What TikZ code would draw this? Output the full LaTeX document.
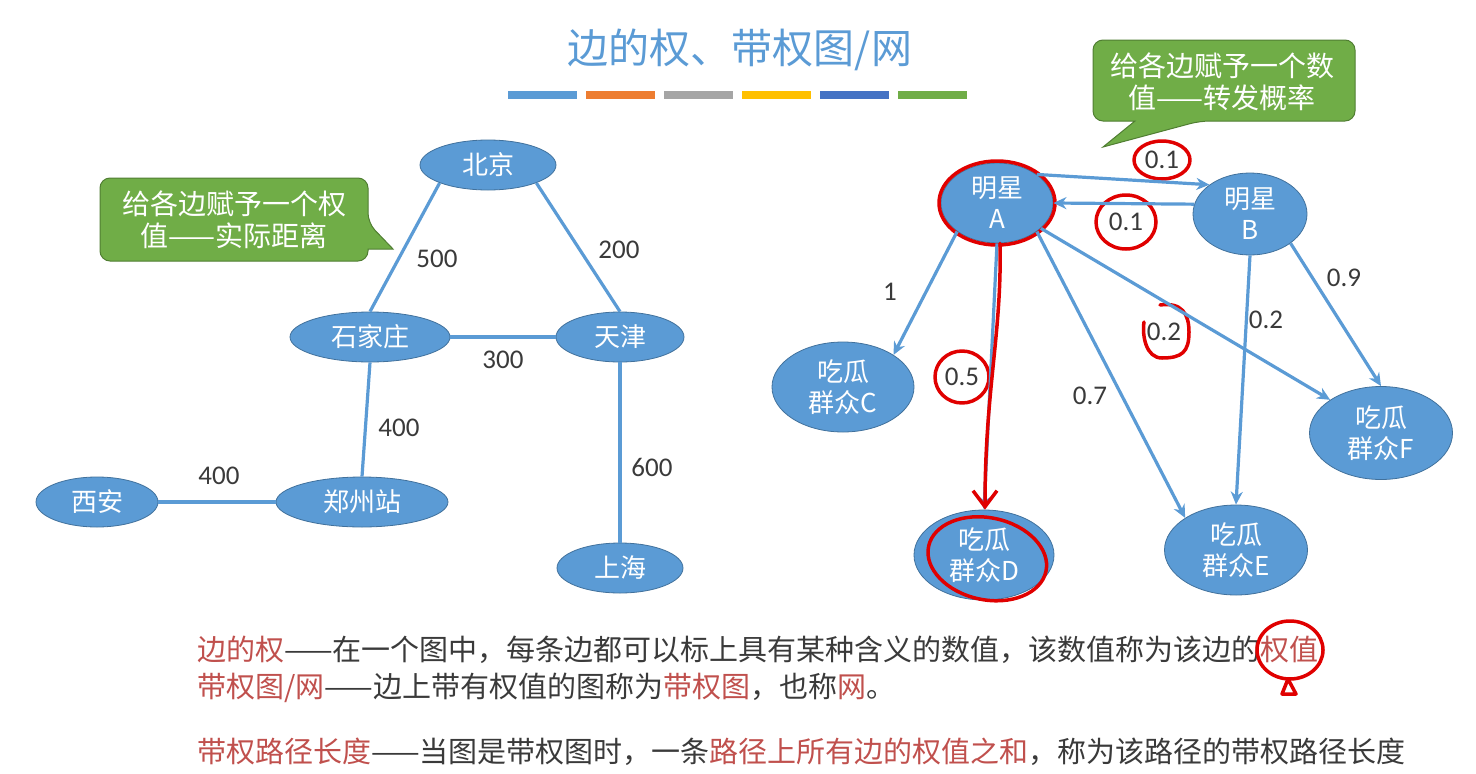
\documentclass[tikz,border=0pt]{standalone}
\usepackage{fontspec}
\setmainfont{Noto Sans CJK SC}
\newfontfamily\numfont{Carlito}
\usetikzlibrary{arrows.meta,shapes.geometric}
\definecolor{nodeblue}{HTML}{5B9BD5}
\definecolor{nodeline}{HTML}{41719C}
\definecolor{calloutgreen}{HTML}{70AD47}
\definecolor{calloutline}{HTML}{507E32}
\definecolor{textgray}{HTML}{3A3A3A}
\definecolor{termred}{HTML}{C0504D}
\definecolor{penred}{HTML}{E00000}
\definecolor{barorange}{HTML}{ED7D31}
\definecolor{bargray}{HTML}{A5A5A5}
\definecolor{baryellow}{HTML}{FFC000}
\definecolor{bardarkblue}{HTML}{4472C4}

\begin{document}
\begin{tikzpicture}[
  x=1pt, y=-1pt,
  city/.style={ellipse, draw=nodeline, line width=0.8pt, fill=nodeblue, text=white, inner sep=0pt, minimum height=50pt, font=\fontsize{26}{30}\selectfont},
  person/.style={ellipse, draw=nodeline, line width=0.8pt, fill=nodeblue, text=white, inner sep=0pt, align=center, font=\fontsize{26}{31}\selectfont},
  road/.style={draw=nodeblue, line width=3.2pt},
  link/.style={draw=nodeblue, line width=3.2pt, -{Stealth[length=13pt,width=12pt]}},
  weight/.style={text=textgray, inner sep=1pt, font=\numfont\fontsize{27}{30}\selectfont},
  callout/.style={fill=calloutgreen, draw=calloutline, line width=1pt, rounded corners=10pt},
  tip/.style={text=white, align=center, font=\fontsize{28}{32}\selectfont},
  pen/.style={draw=penred, line width=3.5pt, line cap=round, line join=round},
  body/.style={anchor=west, inner sep=0pt, text=textgray, font=\fontsize{29}{33}\selectfont}
]
\useasboundingbox (0,0) rectangle (1476,774);

% title and colour bars
\node[text=nodeblue, font=\fontsize{41}{45}\selectfont] (title) at (740,50) {边的权、带权图/网};
\foreach \c [count=\i from 0] in {nodeblue,barorange,bargray,baryellow,bardarkblue,calloutgreen}
  \fill[\c] (508+\i*78,91) rectangle ++(69,8);

% left: distances between cities
\node[city, minimum width=136pt] (bj) at (488,165) {北京};
\node[city, minimum width=160pt] (sjz) at (370,337) {石家庄};
\node[city, minimum width=128pt] (tj) at (620,337) {天津};
\node[city, minimum width=122pt] (xa) at (97,502) {西安};
\node[city, minimum width=172pt] (zz) at (362,502) {郑州站};
\node[city, minimum width=126pt] (sh) at (620,568) {上海};

\draw[road] (bj.south west) -- (sjz.north);
\draw[road] (bj.south east) -- (tj.north);
\draw[road] (sjz.east) -- (tj.west);
\draw[road] (sjz.south) -- (zz.north);
\draw[road] (xa.east) -- (zz.west);
\draw[road] (tj.south) -- (sh.north);

\node[weight] (wbs) at (437,259) {500};
\node[weight] (wbt) at (619,250) {200};
\node[weight] (wst) at (503,360) {300};
\node[weight] (wsz) at (399,428) {400};
\node[weight] (wxz) at (219,476) {400};
\node[weight] (wts) at (652,467) {600};

\draw[callout] (100,178) -- (368,178) -- (368,223) [sharp corners] -- (393,249) -- (368,249) [rounded corners=10pt] -- (368,261) -- (100,261) -- cycle;
\node[tip] (note1) at (234,220) {给各边赋予一个权\\值——实际距离};

% right: forwarding probabilities
\draw[callout] (1093,40) -- (1355,40) -- (1355,121) -- (1200,121) [sharp corners] -- (1103,147) -- (1135,121) [rounded corners=10pt] -- (1093,121) -- cycle;
\node[tip] (note2) at (1222,82) {给各边赋予一个数\\值——转发概率};

\node[person, minimum width=112pt, minimum height=80pt] (A) at (997,203) {明星\\A};
\node[person, minimum width=114pt, minimum height=82pt] (B) at (1250,214) {明星\\B};
\node[person, minimum width=142pt, minimum height=90pt] (C) at (843,387) {吃瓜\\群众C};
\node[person, minimum width=140pt, minimum height=90pt] (D) at (984,555) {吃瓜\\群众D};
\node[person, minimum width=143pt, minimum height=90pt] (E) at (1236,550) {吃瓜\\群众E};
\node[person, minimum width=143pt, minimum height=93pt] (F) at (1381,433) {吃瓜\\群众F};

\node[weight] (wAB) at (1162,160) {0.1};
\node[weight] (wBA) at (1126,222) {0.1};
\node[weight] (wAC) at (890,292) {1};
\node[weight] (wAD) at (962,377) {0.5};
\node[weight] (wAE) at (1090,396) {0.7};
\node[weight] (wAF) at (1164,332) {0.2};
\node[weight] (wBE) at (1266,320) {0.2};
\node[weight] (wBF) at (1344,278) {0.9};

% red pen marks
\draw[pen] (A.center) ellipse [x radius=58pt, y radius=42pt];
\draw[pen, rotate around={-12:(D.center)}] ([xshift=4pt,yshift=-3pt]D.center) ellipse [x radius=60pt, y radius=41pt];
\draw[pen] (wAB.center) ellipse [x radius=28pt, y radius=19pt];
\draw[pen] (wBA.center) ellipse [x radius=30pt, y radius=27pt];
\draw[pen] (wAD.center) ellipse [x radius=27pt, y radius=26pt];
\draw[pen] ([xshift=-4pt,yshift=27pt]wAF.center) .. controls +(22pt,3pt) and +(0pt,18pt) .. ([xshift=25pt,yshift=0pt]wAF.center)
  .. controls +(0pt,-20pt) and +(20pt,0pt) .. ([xshift=-2pt,yshift=-26pt]wAF.center)
  .. controls +(-16pt,0pt) and +(-2pt,-14pt) .. ([xshift=-20pt,yshift=10pt]wAF.center);

\draw[link] (A.north east) -- (B.north west);
\draw[link] (B.170) -- (A.0);
\draw[link] (A.south west) -- (C.north east);
\draw[link] (A.south) -- (D.north);
\draw[link] (A.south east) -- (E.north west);
\draw[link] (A.-30) -- (F.north west);
\draw[link] (B.south) -- (E.north);
\draw[link] (B.south east) -- (F.north);

\draw[pen, -{Straight Barb[length=16pt,width=24pt]}] ([xshift=3pt]A.south) .. controls +(2,90) and +(0,-120) .. ([xshift=1pt]D.north);

% definitions
\node[body] (t1) at (197,650) {\textcolor{termred}{边的权}——在一个图中，每条边都可以标上具有某种含义的数值，该数值称为该边的\textcolor{termred}{权值}};
\node[body] (t2) at (197,688) {\textcolor{termred}{带权图/网}——边上带有权值的图称为\textcolor{termred}{带权图}，也称\textcolor{termred}{网}。};
\node[body] (t3) at (197,752) {\textcolor{termred}{带权路径长度}——当图是带权图时，一条\textcolor{termred}{路径上所有边的权值之和}，称为该路径的带权路径长度};

\draw[pen] ([xshift=-29pt]t1.east) ellipse [x radius=33pt, y radius=29pt];
\draw[pen] ([xshift=-31pt,yshift=-29pt]t1.east) -- ++(-6pt,-15pt) -- ++(14pt,0pt) -- cycle;
\end{tikzpicture}
\end{document}
